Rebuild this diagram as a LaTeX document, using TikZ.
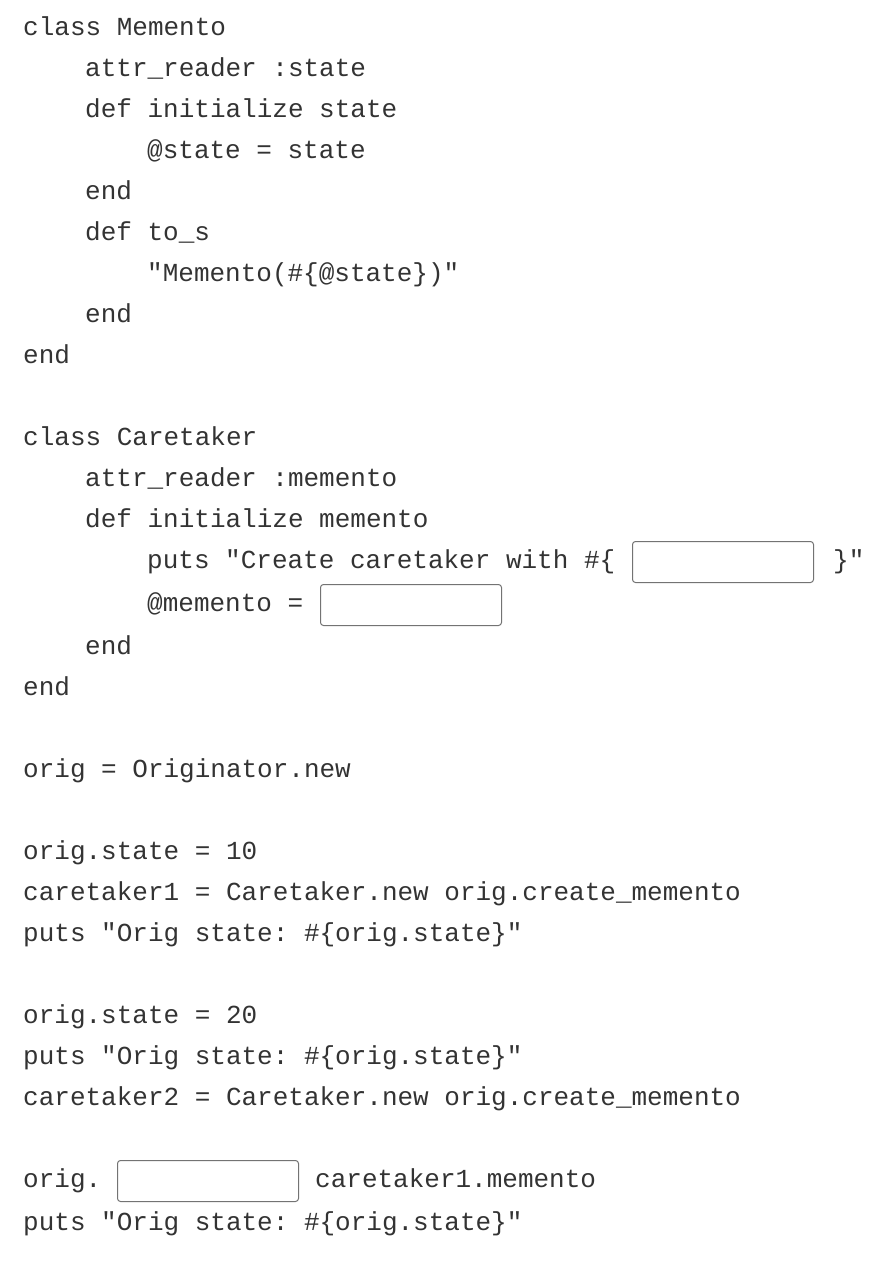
\documentclass[tikz,border=0pt]{standalone}
\usepackage{fontspec}
\setmonofont{Liberation Mono}
\begin{document}
\begin{tikzpicture}[x=1pt,y=-1pt,
  code/.style={anchor=west,inner sep=0pt,text height=18pt,text depth=6pt,font=\ttfamily\fontsize{26}{30}\selectfont,text=black!80},
  blank/.style={draw=black!55,line width=1pt,rounded corners=3pt,minimum width=181pt,minimum height=41pt,inner sep=0pt,anchor=west,fill=white}]
\useasboundingbox (0,0) rectangle (880,1280);
\node[code] (l1) at (23,29) {class Memento};
\node[code] (l2) at (85,70) {attr\_reader :state};
\node[code] (l3) at (85,111) {def initialize state};
\node[code] (l4) at (147,152) {@state = state};
\node[code] (l5) at (85,193) {end};
\node[code] (l6) at (85,234) {def to\_s};
\node[code] (l7) at (147,275) {"Memento(\#\{@state\})"};
\node[code] (l8) at (85,316) {end};
\node[code] (l9) at (23,357) {end};
\node[code] (l10) at (23,439) {class Caretaker};
\node[code] (l11) at (85,480) {attr\_reader :memento};
\node[code] (l12) at (85,521) {def initialize memento};
\node[code] (l13) at (147,562) {puts "Create caretaker with \#\{};
\node[blank] (b1) at (632,562) {};
\node[code] (l13b) at (833,562) {\}"};
\node[code] (l14) at (147,605) {@memento =};
\node[blank] (b2) at (320,605) {};
\node[code] (l15) at (85,648) {end};
\node[code] (l16) at (23,689) {end};
\node[code] (l17) at (23,771) {orig = Originator.new};
\node[code] (l18) at (23,853) {orig.state = 10};
\node[code] (l19) at (23,894) {caretaker1 = Caretaker.new orig.create\_memento};
\node[code] (l20) at (23,935) {puts "Orig state: \#\{orig.state\}"};
\node[code] (l21) at (23,1017) {orig.state = 20};
\node[code] (l22) at (23,1058) {puts "Orig state: \#\{orig.state\}"};
\node[code] (l23) at (23,1099) {caretaker2 = Caretaker.new orig.create\_memento};
\node[code] (l24) at (23,1181) {orig.};
\node[blank] (b3) at (117,1181) {};
\node[code] (l24b) at (315,1181) {caretaker1.memento};
\node[code] (l25) at (23,1224) {puts "Orig state: \#\{orig.state\}"};
\end{tikzpicture}
\end{document}
